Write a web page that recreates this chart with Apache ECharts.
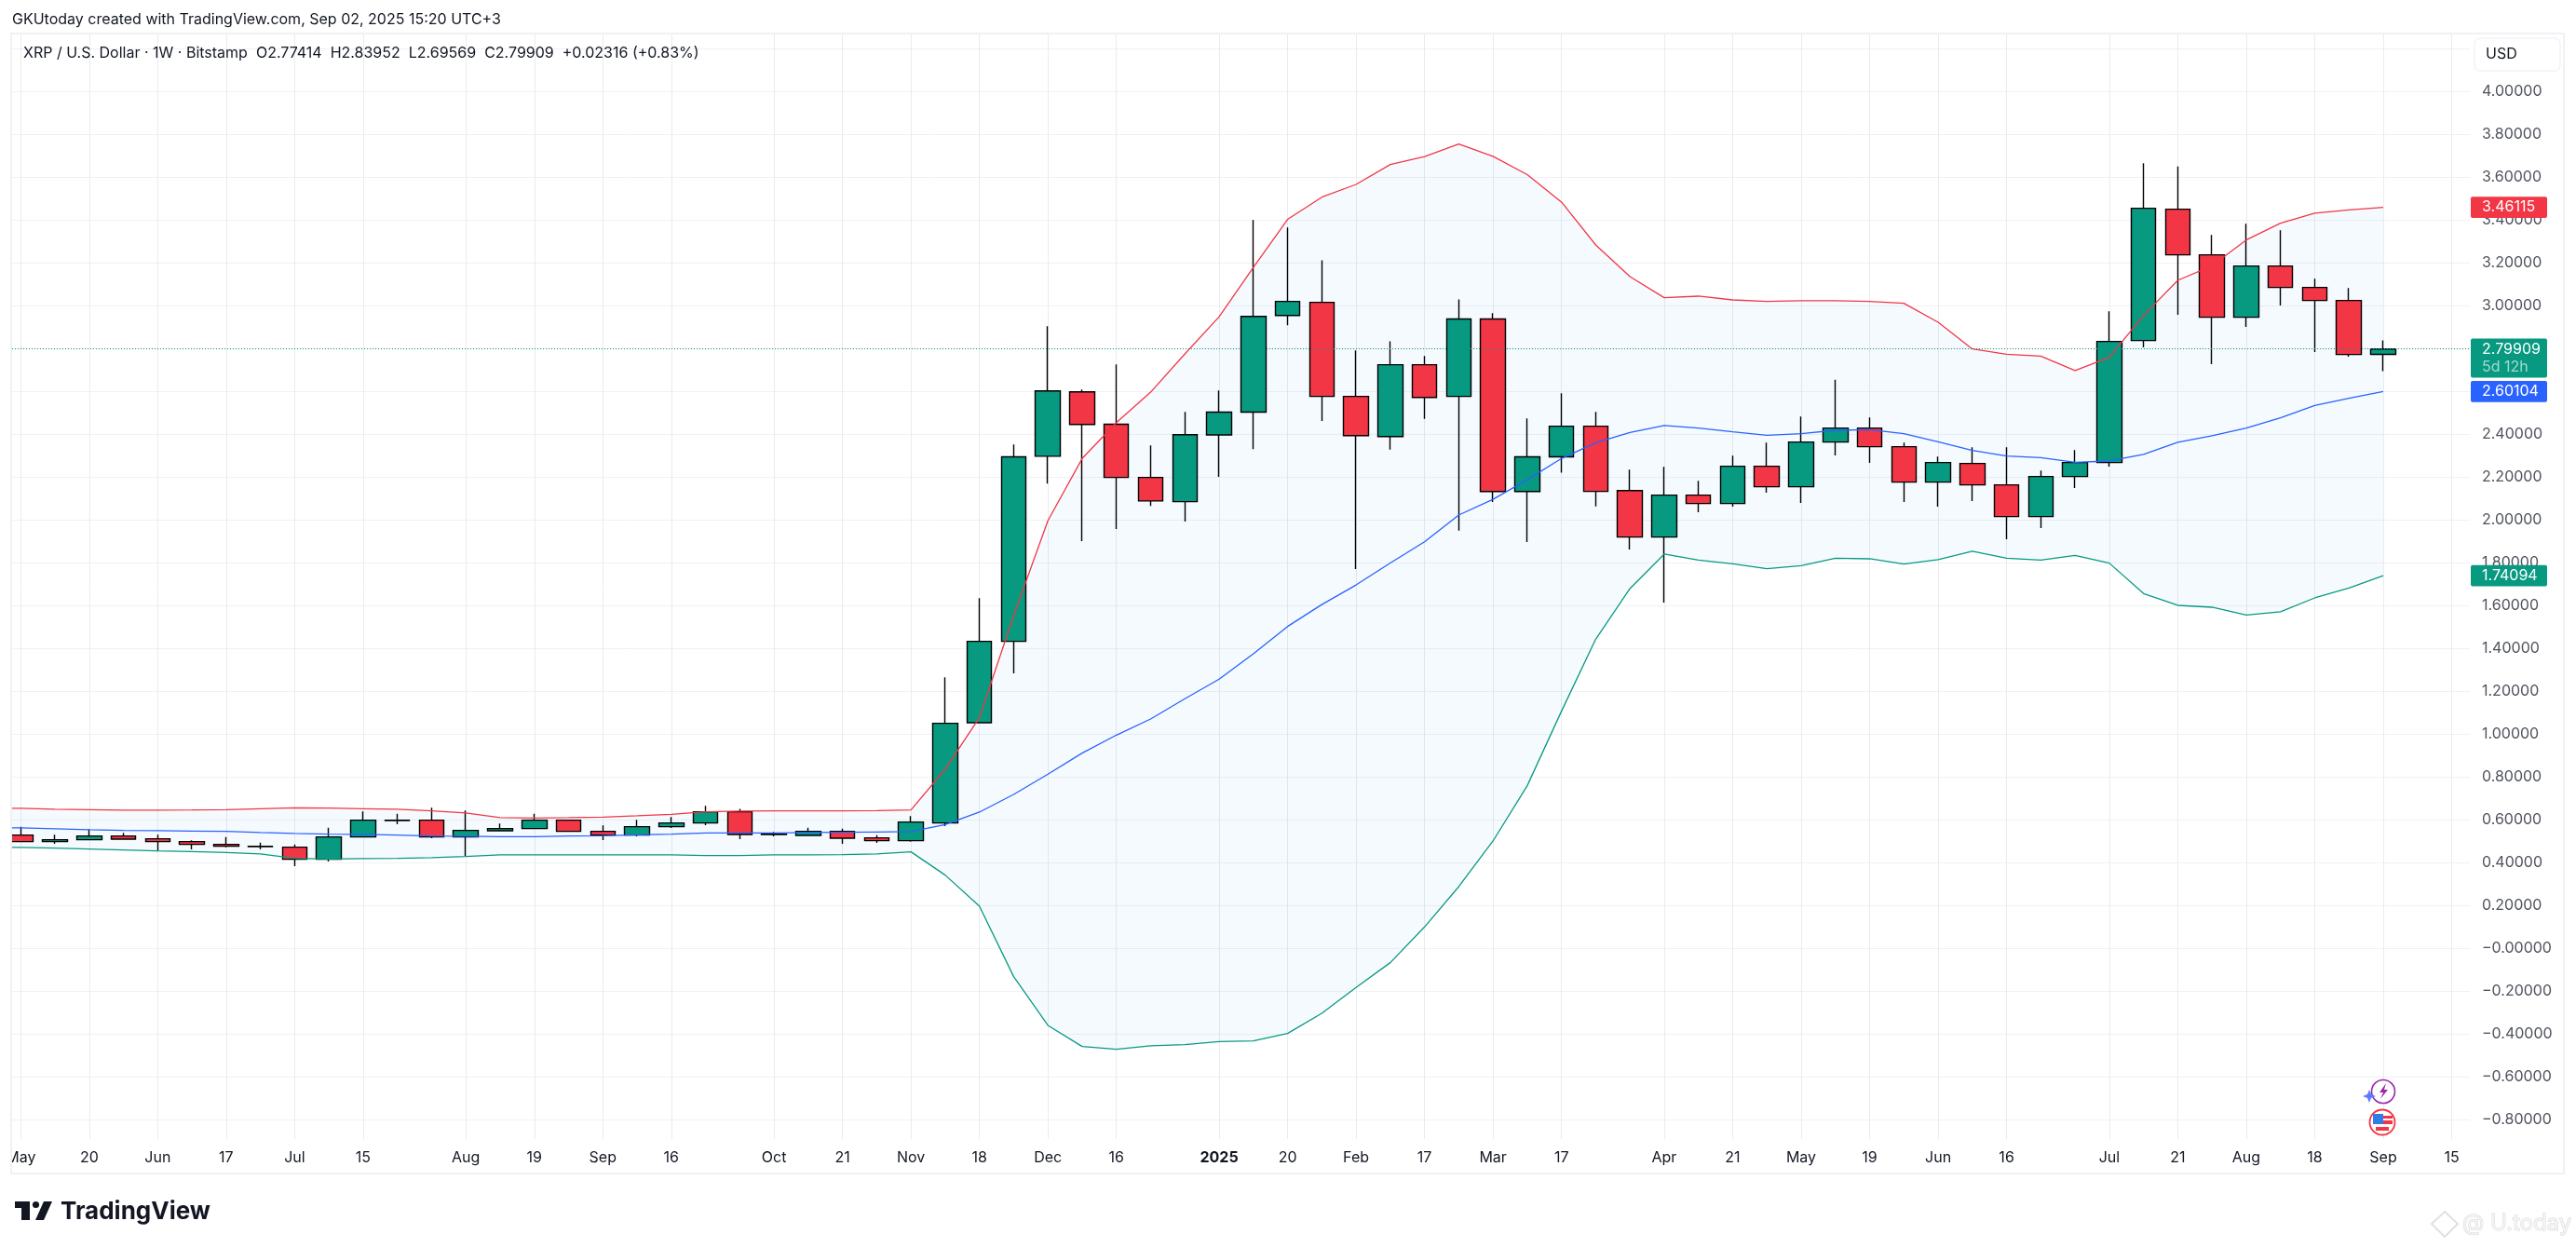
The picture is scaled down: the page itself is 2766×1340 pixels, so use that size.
<!DOCTYPE html>
<html>
<head>
<meta charset="utf-8">
<title>XRP / U.S. Dollar</title>
<style>
html, body { margin: 0; padding: 0; background: #fff; }
#main { width: 2766px; height: 1340px; }
</style>
<script src="https://cdn.jsdelivr.net/npm/echarts@6/dist/echarts.min.js"></script>
</head>
<body>
<div id="main"></div>
<script>
// weekly candles, index 0 = 2024-05-06, index 69 = 2025-09-01
const opens = [0.5303,0.4999,0.5086,0.5260,0.5129,0.4999,0.4868,0.4781,0.4738,0.4173,
  0.5216,0.5984,0.5999,0.5216,0.5506,0.5607,0.5999,0.5477,0.5303,0.5694,
  0.5868,0.6390,0.5346,0.5289,0.5477,0.5173,0.5042,0.5868,1.0550,1.4347,
  2.2989,2.5994,2.4484,2.1998,2.0869,2.3981,2.5048,2.9562,3.0172,2.5780,
  2.3904,2.7259,2.5780,2.9395,2.1342,2.2959,2.4392,2.1388,1.9216,2.1172,
  2.0781,2.2520,2.1563,2.3650,2.4303,2.3433,2.1781,2.2651,2.1651,2.0172,
  2.2042,2.2694,2.8390,3.4520,3.2390,2.9477,3.1868,3.0868,3.0259,2.77414];
const highs = [0.5694,0.5318,0.5578,0.5405,0.5318,0.5057,0.5216,0.4955,0.4868,0.5651,
  0.6404,0.6303,0.6578,0.6448,0.5839,0.6303,0.5999,0.5752,0.6013,0.6144,
  0.6666,0.6521,0.5448,0.5651,0.5607,0.5303,0.6187,1.2665,1.6361,2.3538,
  2.9059,2.6100,2.7275,2.3492,2.5063,2.6055,3.4016,3.3665,3.2140,2.7930,
  2.8357,2.7671,3.0310,2.9669,2.4758,2.5932,2.5063,2.2361,2.2491,2.1839,
  2.3013,2.3622,2.4839,2.6564,2.4796,2.3622,2.2969,2.3404,2.3404,2.2317,
  2.3274,2.9752,3.6665,3.6520,3.3317,3.3839,3.3535,3.1274,3.0839,2.83952];
const lows = [0.4999,0.4897,0.5086,0.5115,0.4564,0.4636,0.4738,0.4636,0.3854,0.4071,
  0.5216,0.5810,0.5158,0.4318,0.5506,0.5607,0.5477,0.5071,0.5245,0.5636,
  0.5767,0.5115,0.5245,0.5260,0.4897,0.4941,0.4998,0.5723,1.0550,1.2854,
  2.1708,1.9024,1.9588,2.0671,1.9939,2.2029,2.3325,2.9105,2.4636,1.7727,
  2.3294,2.4728,1.9512,2.0854,1.8978,2.2227,2.0641,1.8636,1.6158,2.0375,
  2.0636,2.1288,2.0810,2.3027,2.2679,2.0853,2.0636,2.0897,1.9114,1.9636,
  2.1506,2.2506,2.8071,2.9593,2.7288,2.9027,3.0027,2.7854,2.7636,2.69569];
const closes = [0.4999,0.5086,0.5260,0.5115,0.4999,0.4868,0.4781,0.4767,0.4173,0.5216,
  0.5999,0.5999,0.5216,0.5521,0.5607,0.5999,0.5477,0.5303,0.5694,0.5868,
  0.6390,0.5332,0.5332,0.5477,0.5158,0.5042,0.5911,1.0520,1.4347,2.2959,
  2.6039,2.4469,2.1998,2.0900,2.3996,2.5048,2.9517,3.0218,2.5780,2.3950,
  2.7259,2.5734,2.9395,2.1342,2.2959,2.4392,2.1346,1.9216,2.1172,2.0781,
  2.2520,2.1563,2.3650,2.4303,2.3433,2.1781,2.2694,2.1651,2.0172,2.2042,
  2.2694,2.8346,3.4564,3.2390,2.9477,3.1868,3.0868,3.0259,2.7737,2.79909];

// bollinger bands, these start one week earlier (index -1) so the lines reach the left edge
const bandStart = -1;
const upper = [0.6560,0.6550,0.6506,0.6492,0.6463,0.6463,0.6477,0.6492,0.6535,0.6578,0.6564,
  0.6535,0.6506,0.6434,0.6332,0.6115,0.6100,0.6115,0.6144,0.6202,0.6274,
  0.6390,0.6419,0.6433,0.6433,0.6433,0.6448,0.6476,0.8375,1.0796,1.5549,
  1.9985,2.2882,2.4560,2.5978,2.7763,2.9501,3.1804,3.4046,3.5083,3.5678,
  3.6608,3.6974,3.7569,3.6989,3.6135,3.4854,3.2853,3.1375,3.0390,3.0462,
  3.0288,3.0216,3.0245,3.0245,3.0216,3.0129,2.9245,2.7998,2.7752,2.7665,
  2.6984,2.7607,2.9564,3.1201,3.1883,3.3085,3.3868,3.4332,3.4491,3.46115];
const middle = [0.5660,0.5636,0.5593,0.5550,0.5520,0.5506,0.5492,0.5477,0.5419,0.5376,0.5346,
  0.5332,0.5303,0.5260,0.5245,0.5231,0.5231,0.5260,0.5274,0.5318,0.5346,
  0.5404,0.5404,0.5404,0.5419,0.5434,0.5448,0.5463,0.5795,0.6375,0.7202,
  0.8144,0.9129,0.9970,1.0723,1.1665,1.2578,1.3767,1.5042,1.6065,1.6980,
  1.8002,1.8993,2.0244,2.0976,2.1891,2.2883,2.3622,2.4100,2.4419,2.4303,
  2.4129,2.3969,2.4042,2.4201,2.4230,2.4042,2.3665,2.3259,2.2998,2.2926,
  2.2709,2.2766,2.3071,2.3636,2.3940,2.4303,2.4781,2.5361,2.5694,2.60104];
const lower = [0.4738,0.4723,0.4694,0.4651,0.4608,0.4564,0.4535,0.4492,0.4419,0.4216,0.4187,
  0.4202,0.4216,0.4245,0.4303,0.4376,0.4376,0.4376,0.4376,0.4376,0.4376,
  0.4347,0.4347,0.4376,0.4376,0.4390,0.4419,0.4520,0.3433,0.1984,-0.1306,
  -0.3582,-0.4567,-0.4697,-0.4538,-0.4480,-0.4335,-0.4306,-0.3958,-0.3016,-0.1813,
  -0.0654,0.1013,0.2897,0.5027,0.7607,1.1086,1.4448,1.6810,1.8419,1.8143,
  1.7970,1.7738,1.7883,1.8230,1.8201,1.7955,1.8158,1.8549,1.8230,1.8143,
  1.8361,1.7999,1.6578,1.6027,1.5940,1.5578,1.5723,1.6375,1.6839,1.74094];

// time axis ticks (week index -> label)
const xTicks = [0,2,4,6,8,10,13,15,17,19,22,24,26,28,30,32,35,37,39,41,43,45,48,50,52,54,56,58,61,63,65,67,69,71];
const xLabels = ['May','20','Jun','17','Jul','15','Aug','19','Sep','16','Oct','21','Nov','18','Dec','16','2025','20','Feb','17','Mar','17','Apr','21','May','19','Jun','16','Jul','21','Aug','18','Sep','15'];

// price axis ticks
const yTicks = [4,3.8,3.6,3.4,3.2,3,2.8,2.6,2.4,2.2,2,1.8,1.6,1.4,1.2,1,0.8,0.6,0.4,0.2,0,-0.2,-0.4,-0.6,-0.8];
const yLabels = ['4.00000','3.80000','3.60000','3.40000','3.20000','3.00000','2.80000','2.60000','2.40000','2.20000','2.00000','1.80000','1.60000','1.40000','1.20000','1.00000','0.80000','0.60000','0.40000','0.20000','\u22120.00000','\u22120.20000','\u22120.40000','\u22120.60000','\u22120.80000'];
const yGrid = [4.2].concat(yTicks);

const lastPrice = 2.79909;
const lastUpper = 3.46115;
const lastMiddle = 2.60104;
const lastLower = 1.74094;

const GREEN = '#089981';
const RED = '#F23645';
const BLUE = '#2962FF';
const FONT = 'Inter, "Noto Sans", sans-serif';

function bandData(values){
    return values.map(function(v, i){ return [i + bandStart, v]; });
}

const candles = opens.map(function(o, i){ return [i, o, closes[i], lows[i], highs[i]]; });

// the fill between the bands is one polygon, drawn when the first row comes by
function renderBandFill(params, api){
    if (params.dataIndex !== 0) {
        return null;
    }
    const top = upper.map(function(v, i){ return api.coord([i + bandStart, v]); });
    const bottom = lower.map(function(v, i){ return api.coord([i + bandStart, v]); }).reverse();
    const cs = params.coordSys;
    return {
        type: 'polygon',
        shape: { points: echarts.graphic.clipPointsByRect(top.concat(bottom), { x: cs.x, y: cs.y, width: cs.width, height: cs.height }) },
        style: { fill: 'rgba(33,150,243,0.045)' },
        silent: true
    };
}

const myChart = echarts.init(document.getElementById('main'));

myChart.setOption({
    animation: false,
    backgroundColor: '#fff',
    grid: { left: 13, right: 114, top: 36, bottom: 117 },
    xAxis: {
        type: 'value',
        min: -0.253,
        max: 71.53,
        axisLine: { show: false },
        axisTick: { show: false, customValues: xTicks },
        splitLine: { show: true, lineStyle: { color: '#e9ebef', width: 1 } },
        axisLabel: {
            customValues: xTicks,
            margin: 12,
            fontFamily: FONT,
            fontSize: 16,
            color: '#131722',
            formatter: function(v){
                const s = xLabels[xTicks.indexOf(v)];
                return s === '2025' ? '{b|' + s + '}' : s;
            },
            rich: { b: { fontFamily: FONT, fontSize: 16, fontWeight: 700, color: '#131722' } }
        }
    },
    yAxis: {
        type: 'value',
        position: 'right',
        min: -0.8887,
        max: 4.2722,
        axisLine: { show: false },
        axisTick: { show: false, customValues: yGrid },
        splitLine: { show: true, lineStyle: { color: '#f0f1f4', width: 1 } },
        axisLabel: {
            customValues: yTicks,
            align: 'left',
            margin: 13,
            fontFamily: FONT,
            fontSize: 16,
            color: '#50535e',
            formatter: function(v){ return yLabels[yTicks.indexOf(v)]; }
        }
    },
    series: [
        {
            name: 'bandFill', type: 'custom', silent: true, renderItem: renderBandFill,
            data: [[bandStart, lower[0], upper[0]]],
            encode: { x: 0, y: [1, 2] }
        },
        { name: 'Upper', type: 'line', data: bandData(upper), symbol: 'none', silent: true, lineStyle: { color: RED, width: 1.3 } },
        { name: 'Basis', type: 'line', data: bandData(middle), symbol: 'none', silent: true, lineStyle: { color: BLUE, width: 1.3 } },
        { name: 'Lower', type: 'line', data: bandData(lower), symbol: 'none', silent: true, lineStyle: { color: GREEN, width: 1.3 } },
        {
            name: 'XRPUSD', type: 'candlestick', data: candles, barWidth: 27, silent: true,
            itemStyle: {
                color: GREEN, color0: RED,
                borderColor: '#000', borderColor0: '#000', borderColorDoji: '#000',
                borderWidth: 1.4
            },
            markLine: {
                silent: true, symbol: 'none', animation: false,
                label: { show: false },
                lineStyle: { color: GREEN, type: [1, 2], width: 1 },
                data: [{ yAxis: lastPrice }]
            }
        }
    ]
});

// price tags on the axis, y comes from the chart's own scale
function priceTag(value, color, extra){
    const y = myChart.convertToPixel({ yAxisIndex: 0 }, value);
    const items = [
        { type: 'rect', z: 110, shape: { x: 2653, y: y - 11.4, width: 82, height: extra ? 42 : 22.8, r: 2 }, style: { fill: color } },
        { type: 'text', z: 111, style: { x: 2665, y: y, text: value.toFixed(5), fill: '#fff', font: '16px ' + FONT, verticalAlign: 'middle' } }
    ];
    if (extra) {
        items.push({ type: 'text', z: 111, style: { x: 2665, y: y + 19, text: extra, fill: 'rgba(255,255,255,0.62)', font: '16px ' + FONT, verticalAlign: 'middle' } });
    }
    return items;
}

const frame = [
    // candlestick does not clip at pixel level, so mask the left margin
    { type: 'rect', z: 100, shape: { x: 0, y: 36, width: 12, height: 1224 }, style: { fill: '#fff' } },
    { type: 'rect', z: 101, shape: { x: 12, y: 36, width: 2741, height: 1224 }, style: { fill: 'none', stroke: '#f0f1f3', lineWidth: 2 } },
    // USD box
    { type: 'rect', z: 105, shape: { x: 2657, y: 41, width: 92, height: 35, r: 6 }, style: { fill: '#fff', stroke: '#f0f3fa', lineWidth: 1.5 } },
    { type: 'text', z: 106, style: { x: 2669, y: 58.5, text: 'USD', fill: '#131722', font: '16px ' + FONT, verticalAlign: 'middle' } },
    // header
    { type: 'text', z: 106, style: { x: 13, y: 21, text: 'GKUtoday created with TradingView.com, Sep 02, 2025 15:20 UTC+3', fill: '#131722', font: '16px ' + FONT, verticalAlign: 'middle' } },
    { type: 'text', z: 106, style: { x: 25, y: 57, text: 'XRP / U.S. Dollar \u00b7 1W \u00b7 Bitstamp  O2.77414  H2.83952  L2.69569  C2.79909  +0.02316 (+0.83%)', fill: '#131722', font: '16px ' + FONT, verticalAlign: 'middle' } },
    // TradingView logo
    { type: 'polygon', z: 106, shape: { points: [[16,1290],[32,1290],[32,1310],[23,1310],[23,1297],[16,1297]] }, style: { fill: '#131722' } },
    { type: 'circle', z: 106, shape: { cx: 38.5, cy: 1293.5, r: 3.6 }, style: { fill: '#131722' } },
    { type: 'polygon', z: 106, shape: { points: [[47,1290],[56,1290],[47,1310],[38,1310]] }, style: { fill: '#131722' } },
    { type: 'text', z: 106, style: { x: 65, y: 1301, text: 'TradingView', fill: '#131722', font: '700 26px ' + FONT, verticalAlign: 'middle' } },
    // event icons above the Sep tick
    { type: 'circle', z: 106, shape: { cx: 2559, cy: 1172, r: 12.5 }, style: { fill: '#fff', stroke: '#9c27b0', lineWidth: 1.6 } },
    { type: 'polygon', z: 107, shape: { points: [[2562,1163],[2555,1173],[2559,1173],[2556,1180],[2564,1170],[2560,1170]] }, style: { fill: '#9c27b0' } },
    { type: 'polygon', z: 107, shape: { points: [[2544,1170],[2546,1175],[2551,1177],[2546,1179],[2544,1184],[2542,1179],[2537,1177],[2542,1175]] }, style: { fill: '#5b7cff' } },
    { type: 'circle', z: 106, shape: { cx: 2558, cy: 1205, r: 13.5 }, style: { fill: '#fff', stroke: RED, lineWidth: 1.8 } },
    { type: 'rect', z: 107, shape: { x: 2548, y: 1196, width: 11, height: 11 }, style: { fill: '#2f7ee8' } },
    { type: 'rect', z: 107, shape: { x: 2559, y: 1198, width: 10, height: 3 }, style: { fill: RED } },
    { type: 'rect', z: 107, shape: { x: 2559, y: 1203, width: 10, height: 4 }, style: { fill: RED } },
    { type: 'rect', z: 107, shape: { x: 2551, y: 1210, width: 14, height: 4 }, style: { fill: RED } },
    // watermark
    { type: 'polygon', z: 106, shape: { points: [[2625,1301],[2639,1314],[2625,1328],[2611,1314]] }, style: { fill: '#fff', stroke: '#dfe0e2', lineWidth: 2 } },
    { type: 'text', z: 106, style: { x: 2644, y: 1314, text: '@ U.today', fill: '#f4f4f5', stroke: '#d4d5d8', lineWidth: 1, font: '24px ' + FONT, verticalAlign: 'middle' } }
];

myChart.setOption({
    graphic: frame
        .concat(priceTag(lastUpper, RED))
        .concat(priceTag(lastMiddle, BLUE))
        .concat(priceTag(lastLower, GREEN))
        .concat(priceTag(lastPrice, GREEN, '5d 12h'))
});
</script>
</body>
</html>
